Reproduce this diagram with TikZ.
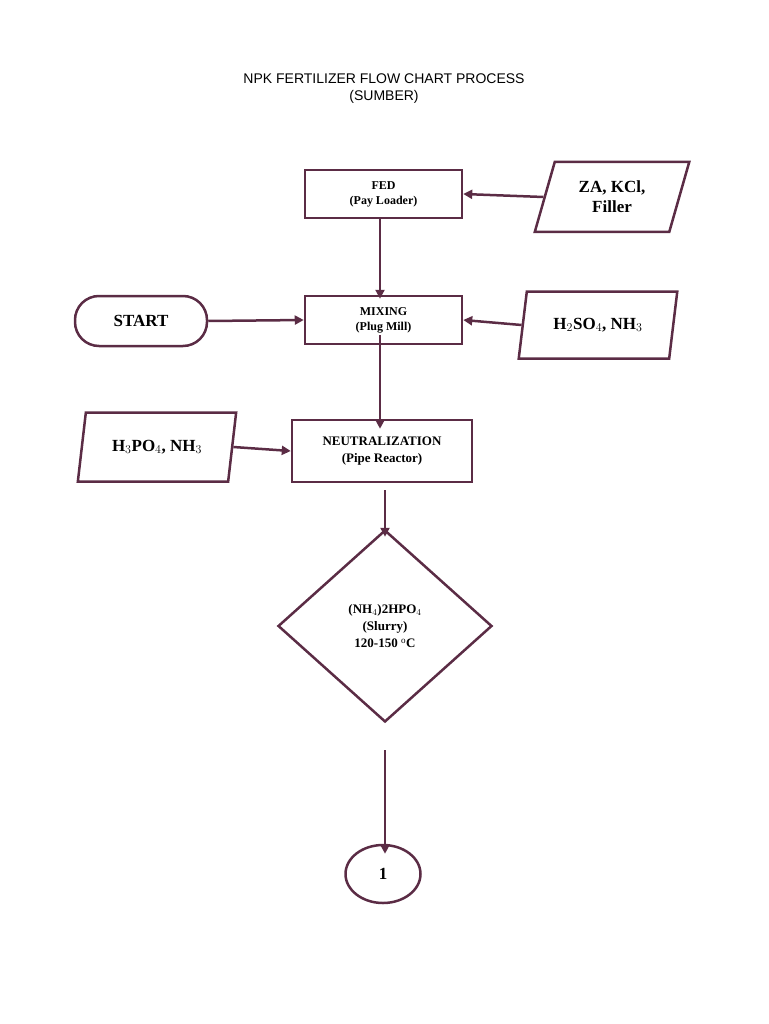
\documentclass[tikz,border=0pt]{standalone}
\usepackage{fontspec}
\setmainfont{Liberation Serif}
\newfontfamily\titlefont{Liberation Sans}
\usetikzlibrary{shapes.geometric,arrows.meta}
\definecolor{pl}{HTML}{5B2C45}
\begin{document}
\begin{tikzpicture}[x=1pt,y=-1pt,
  every node/.style={font=\bfseries, text=black, align=center},
  box/.style={draw=pl, line width=2.5pt, rectangle, inner sep=0pt},
  para/.style={draw=pl, line width=2.5pt, trapezium, trapezium left angle=70, trapezium right angle=110, trapezium stretches=true, inner sep=0pt},
  arr/.style={draw=pl, line width=2.5pt, -{Triangle[length=9pt,width=9pt]}}]
\useasboundingbox (0,0) rectangle (768,1024);
\node[font=\titlefont\fontsize{14}{17}\selectfont] (t) at (384,89) {NPK FERTILIZER FLOW CHART PROCESS\\(SUMBER)};
\node[box, minimum width=157pt, minimum height=48pt, font=\bfseries\fontsize{12}{15}\selectfont] (fed) at (383.5,194) {FED\\(Pay Loader)};
\node[para, minimum width=155pt, minimum height=70pt, font=\bfseries\fontsize{17}{20}\selectfont] (za) at (612,197) {ZA, KCl,\\Filler};
\node[box, minimum width=157pt, minimum height=48pt, font=\bfseries\fontsize{12}{15}\selectfont] (mix) at (383.5,320) {MIXING\\(Plug Mill)};
\node[box, rounded corners=24pt, minimum width=132pt, minimum height=50pt, font=\bfseries\fontsize{17}{20}\selectfont] (start) at (141,321) {START};
\node[para, minimum width=160pt, minimum height=67pt, font=\bfseries\fontsize{17}{20}\selectfont] (h2) at (598,325) {H$_2$SO$_4$, NH$_3$};
\node[box, minimum width=180pt, minimum height=62pt, font=\bfseries\fontsize{13}{17}\selectfont] (neu) at (382,451) {NEUTRALIZATION\\(Pipe Reactor)};
\node[para, minimum width=160pt, minimum height=69pt, font=\bfseries\fontsize{17}{20}\selectfont] (h3) at (157,447) {H$_3$PO$_4$, NH$_3$};
\node[draw=pl, line width=2.5pt, diamond, minimum width=214pt, minimum height=192pt, inner sep=0pt, font=\bfseries\fontsize{13}{17}\selectfont] (dia) at (385,626) {(NH$_4$)2HPO$_4$\\(Slurry)\\120-150 $^{\mathrm{o}}$C};
\node[draw=pl, line width=2.5pt, ellipse, minimum width=75pt, minimum height=58pt, inner sep=0pt, font=\bfseries\fontsize{17}{20}\selectfont] (one) at (383,874) {1};
\coordinate (c1) at (385,490);
\coordinate (c2) at (385,750);
\draw[arr] (za.west) -- (fed.east);
\draw[arr] (fed.south -| 380,0) -- ([yshift=-4pt]mix.north -| 380,0);
\draw[arr] (start.east) -- (mix.west);
\draw[arr] (h2.west) -- (mix.east);
\draw[arr] ([yshift=10pt]mix.south -| 380,0) -- ([yshift=-10pt]neu.north -| 380,0);
\draw[arr] (h3.east) -- (neu.west);
\draw[arr] (c1) -- ([yshift=-8pt]dia.north);
\draw[arr] (c2) -- ([yshift=-10pt]one.north -| c2);
\end{tikzpicture}
\end{document}
